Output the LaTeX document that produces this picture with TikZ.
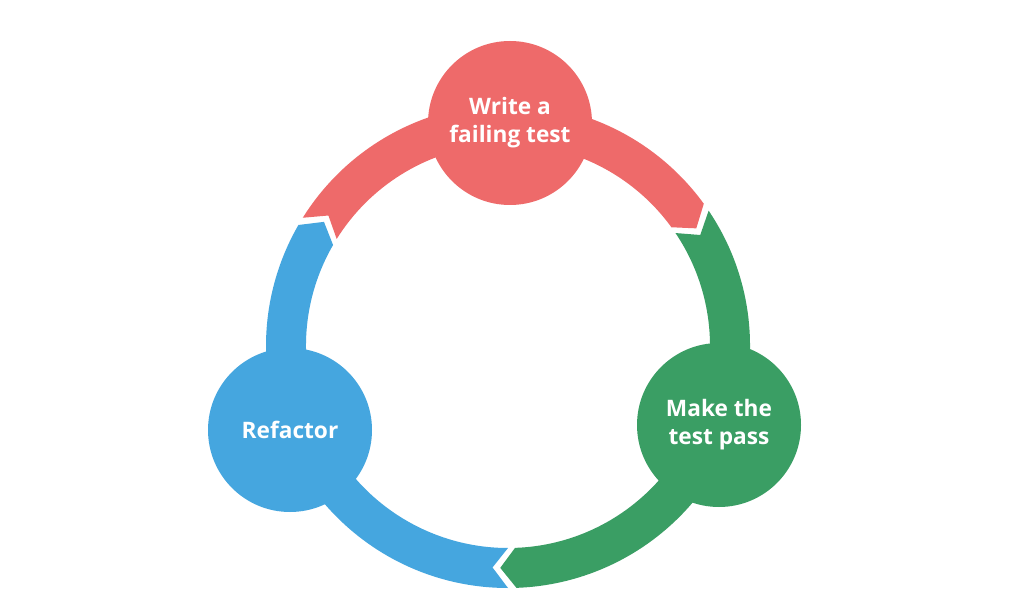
\documentclass[tikz,border=0pt]{standalone}
\usepackage{fontspec}
\setmainfont{Open Sans}
\definecolor{cred}{HTML}{EE6A6A}
\definecolor{cgreen}{HTML}{3A9E64}
\definecolor{cblue}{HTML}{45A6DF}
\begin{document}
\begin{tikzpicture}[x=0.75pt,y=0.75pt,
  phase/.style={circle,minimum size=164*0.75pt,inner sep=0pt,text=white,align=center,font=\bfseries\fontsize{17}{21}\selectfont}]
\useasboundingbox (0,0) rectangle (1024,600);
\fill[white] (0,0) rectangle (1024,600);
\begin{scope}[shift={(508,254)}]
\newcommand\seg[3]{\fill[#1] (#2:242) arc[start angle=#2,end angle=#3,radius=242] -- (#3-4:222) -- (#3:202) arc[start angle=#3,end angle=#2,radius=202] -- (#2-4:222) -- cycle;}
\seg{cred}{148}{36}
\seg{cgreen}{34}{-88}
\seg{cblue}{-90}{-210}
\end{scope}
\node[phase,fill=cred] (w) at (510,477) {Write a\\failing test};
\node[phase,fill=cgreen] (m) at (719,175) {Make the\\test pass};
\node[phase,fill=cblue] (r) at (290,170) {Refactor};
\end{tikzpicture}
\end{document}
